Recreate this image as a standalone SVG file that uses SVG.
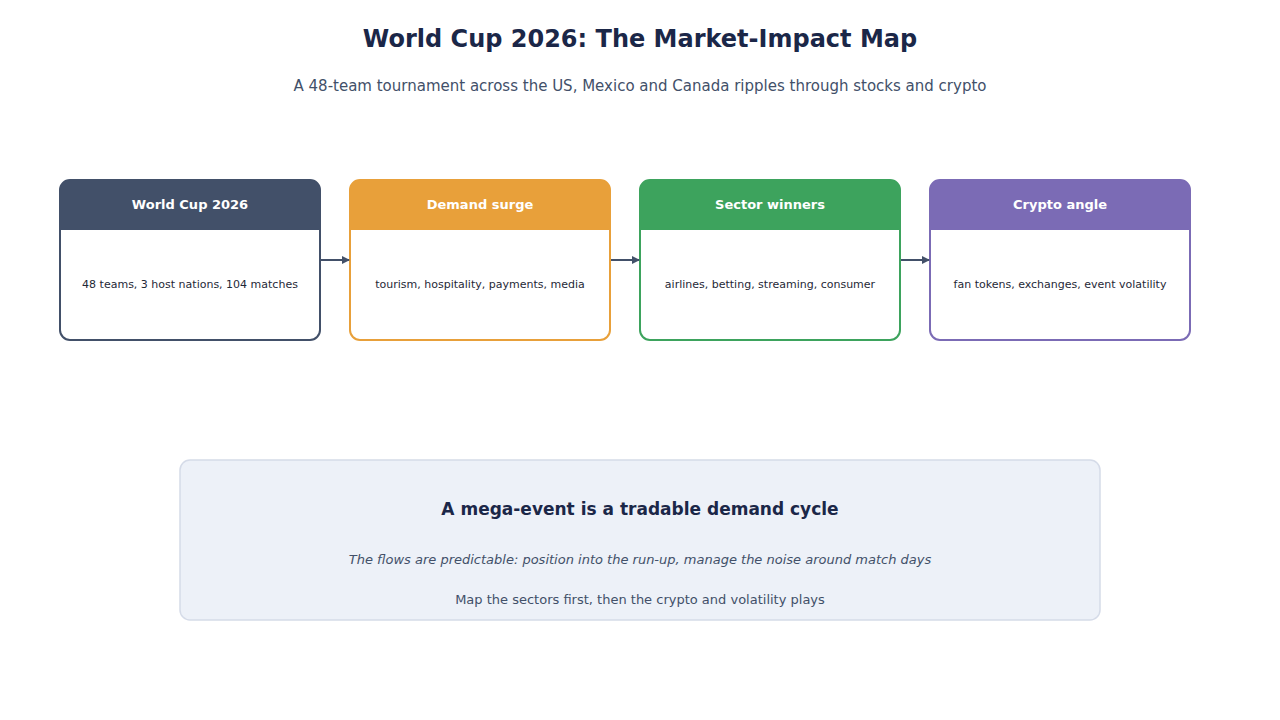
<svg xmlns="http://www.w3.org/2000/svg" width="1280" height="720" viewBox="0 0 1280 720">
<style>
text{font-family:"DejaVu Sans",sans-serif;text-anchor:middle}
.h{font-size:13px;font-weight:bold;fill:#fff}
.b{font-size:11px;fill:#1f2937}
.box{fill:#fff;stroke-width:2}
</style>
<defs><marker id="a" markerWidth="8" markerHeight="8" refX="7" refY="4" orient="auto" markerUnits="userSpaceOnUse"><path d="M0,0L8,4L0,8z" fill="#425069"/></marker></defs>
<rect width="1280" height="720" fill="#fff"/>
<text x="640" y="47" font-size="24" font-weight="bold" fill="#1b2748">World Cup 2026: The Market-Impact Map</text>
<text x="640" y="91" font-size="15" fill="#425069">A 48-team tournament across the US, Mexico and Canada ripples through stocks and crypto</text>
<g id="n1"><rect class="box" x="60" y="180" width="260" height="160" rx="10" stroke="#425069"/><path d="M60,230V190a10,10 0 0 1 10,-10H310a10,10 0 0 1 10,10V230z" fill="#425069"/><text class="h" x="190" y="209">World Cup 2026</text><text class="b" x="190" y="288">48 teams, 3 host nations, 104 matches</text></g>
<g id="n2"><rect class="box" x="350" y="180" width="260" height="160" rx="10" stroke="#e8a03a"/><path d="M350,230V190a10,10 0 0 1 10,-10H600a10,10 0 0 1 10,10V230z" fill="#e8a03a"/><text class="h" x="480" y="209">Demand surge</text><text class="b" x="480" y="288">tourism, hospitality, payments, media</text></g>
<g id="n3"><rect class="box" x="640" y="180" width="260" height="160" rx="10" stroke="#3da35d"/><path d="M640,230V190a10,10 0 0 1 10,-10H890a10,10 0 0 1 10,10V230z" fill="#3da35d"/><text class="h" x="770" y="209">Sector winners</text><text class="b" x="770" y="288">airlines, betting, streaming, consumer</text></g>
<g id="n4"><rect class="box" x="930" y="180" width="260" height="160" rx="10" stroke="#7b6bb5"/><path d="M930,230V190a10,10 0 0 1 10,-10H1180a10,10 0 0 1 10,10V230z" fill="#7b6bb5"/><text class="h" x="1060" y="209">Crypto angle</text><text class="b" x="1060" y="288">fan tokens, exchanges, event volatility</text></g>
<g id="edges" stroke="#425069" stroke-width="2" marker-end="url(#a)"><line x1="321" y1="260" x2="349" y2="260"/><line x1="611" y1="260" x2="639" y2="260"/><line x1="901" y1="260" x2="929" y2="260"/></g>
<g id="note"><rect x="180" y="460" width="920" height="160" rx="10" fill="#edf1f8" stroke="#d5dbe8" stroke-width="1.5"/>
<text x="640" y="515" font-size="17" font-weight="bold" fill="#1b2748">A mega-event is a tradable demand cycle</text>
<text x="640" y="564" font-size="13" font-style="italic" fill="#425069">The flows are predictable: position into the run-up, manage the noise around match days</text>
<text x="640" y="604" font-size="13" fill="#425069">Map the sectors first, then the crypto and volatility plays</text></g>
</svg>
